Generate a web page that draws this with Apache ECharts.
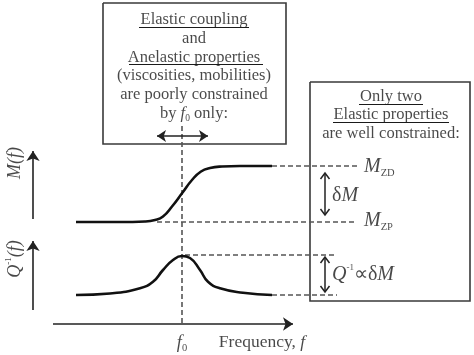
<!DOCTYPE html>
<html>
<head>
<meta charset="utf-8">
<script src="https://cdn.jsdelivr.net/npm/echarts@6/dist/echarts.min.js"></script>
<style>
  html, body { margin: 0; padding: 0; background: #fff; }
  #chart { width: 474px; height: 355px; }
</style>
</head>
<body>
<div id="chart"></div>
<script>
// diagram units: x = schematic frequency, y = schematic level (downwards)
const f0 = 182;
const mZD = 166;   // relaxed/unrelaxed modulus levels
const mZP = 222;
const qPeak = 255;
const qBase = 295;

// M(f) step (sigmoid)
const freqM = [76, 120, 145, 155, 163, 172, 182, 192, 201, 210, 222, 240, 272];
const modulus = [222, 222, 221.5, 220, 216.5, 206.5, 193.3, 180, 171.5, 168, 166.5, 166, 166];

// Q^-1(f) peak
const freqQ = [76, 110, 140, 153, 163, 173, 182, 190, 200, 208, 220, 243, 272];
const attenuation = [295, 293.5, 288.3, 281.7, 270, 260, 256, 258, 270, 281.7, 288.3, 292.7, 295];

const leftBoxLines = ['Elastic coupling', 'and', 'Anelastic properties', '(viscosities, mobilities)', 'are poorly constrained', '{n|by }{i|f}{sub|0}{n| only:}'];
const rightBoxLines = ['Only two', 'Elastic properties', 'are well constrained:'];

const chart = echarts.init(document.getElementById('chart'));

const serif = "'Liberation Serif', 'Times New Roman', serif";
const ink = '#1a1a1a';
const dashColor = '#555';

const richBase = {
  n: { fontFamily: serif, fontSize: 16.5, color: ink, lineHeight: 20 },
  i: { fontFamily: serif, fontSize: 16.5, fontStyle: 'italic', color: ink, lineHeight: 20 },
  sub: { fontFamily: serif, fontSize: 9.5, color: ink, lineHeight: 9, verticalAlign: 'bottom' }
};

function textItem(x, y, formatter, extra) {
  return {
    value: [x, y],
    label: Object.assign({
      show: true,
      position: 'inside',
      formatter: formatter,
      fontFamily: serif,
      fontSize: 16.5,
      color: ink,
      align: 'center',
      verticalAlign: 'middle',
      rich: richBase
    }, extra || {})
  };
}

const texts = [];
leftBoxLines.forEach((t, k) => {
  texts.push(textItem(194, 20 + k * 18.7, t));
});
rightBoxLines.forEach((t, k) => {
  texts.push(textItem(391, 96.5 + k * 18.4, t));
});

const bigRich = {
  m: { fontFamily: serif, fontSize: 20, fontStyle: 'italic', color: ink, lineHeight: 24 },
  r: { fontFamily: serif, fontSize: 20, color: ink, lineHeight: 24 },
  sub: { fontFamily: serif, fontSize: 10.5, color: ink, lineHeight: 10, verticalAlign: 'bottom' },
  sup: { fontFamily: serif, fontSize: 9, color: ink, lineHeight: 9, verticalAlign: 'top' }
};
texts.push(textItem(364, mZD + 1, '{m|M}{sub|ZD}', { align: 'left', rich: bigRich }));
texts.push(textItem(364, mZP - 1, '{m|M}{sub|ZP}', { align: 'left', rich: bigRich }));
texts.push(textItem(332, 196, '{r|δ}{m|M}', { align: 'left', rich: bigRich }));
texts.push(textItem(332, 275, '{m|Q}{sup|-1}{r|∝δ}{m|M}', { align: 'left', rich: bigRich }));
texts.push(textItem(f0, 343, '{m|f}{sub|0}', { rich: Object.assign({}, bigRich, {
  m: { fontFamily: serif, fontSize: 18, fontStyle: 'italic', color: ink, lineHeight: 22 } }) }));
texts.push(textItem(262, 342, '{r|Frequency, }{m|f}', { rich: {
  r: { fontFamily: serif, fontSize: 17.5, color: ink },
  m: { fontFamily: serif, fontSize: 17.5, fontStyle: 'italic', color: ink }
} }));
texts.push(textItem(15, 163, '{m|M}{r|(}{m|f}{r|)}', { rotate: 90, rich: {
  m: { fontFamily: serif, fontSize: 18, fontStyle: 'italic', color: ink, lineHeight: 22 },
  r: { fontFamily: serif, fontSize: 18, fontStyle: 'italic', color: ink, lineHeight: 22 }
} }));
texts.push(textItem(15, 259, '{m|Q}{sup|-1}{r|(}{m|f}{r|)}', { rotate: 90, rich: {
  m: { fontFamily: serif, fontSize: 18, fontStyle: 'italic', color: ink, lineHeight: 22 },
  r: { fontFamily: serif, fontSize: 18, fontStyle: 'italic', color: ink, lineHeight: 22 },
  sup: { fontFamily: serif, fontSize: 9, color: ink, lineHeight: 9, verticalAlign: 'top' }
} }));

const option = {
  animation: false,
  backgroundColor: '#fff',
  grid: { left: 0, right: 0, top: 0, bottom: 0 },
  xAxis: { type: 'value', min: 0, max: 474, show: false },
  yAxis: { type: 'value', min: 0, max: 355, inverse: true, show: false },
  series: [
    // the two text boxes
    {
      type: 'lines', coordinateSystem: 'cartesian2d', polyline: true, silent: true,
      lineStyle: { color: '#3a3a3a', width: 1.6, opacity: 1 },
      data: [
        { coords: [[103, 3], [286, 3], [286, 144], [103, 144], [103, 3]] },
        { coords: [[310, 82], [470, 82], [470, 301], [310, 301], [310, 82]] }
      ]
    },
    // underlines
    {
      type: 'lines', coordinateSystem: 'cartesian2d', silent: true,
      lineStyle: { color: ink, width: 1, opacity: 1 },
      data: [
        { coords: [[139, 27.5], [249, 27.5]] },
        { coords: [[129, 64], [263, 64]] },
        { coords: [[359, 104.5], [423, 104.5]] },
        { coords: [[333, 122.5], [449, 122.5]] }
      ]
    },
    // dashed reference lines
    {
      type: 'lines', coordinateSystem: 'cartesian2d', silent: true,
      lineStyle: { color: dashColor, width: 1.6, type: [5, 3], opacity: 1 },
      data: [
        { coords: [[f0, 126], [f0, 323]] },
        { coords: [[272, mZD], [358, mZD]] },
        { coords: [[157, mZP], [357, mZP]] },
        { coords: [[185, qPeak], [337, qPeak]] },
        { coords: [[272, qBase], [337, qBase]] }
      ]
    },
    // axes arrows
    {
      type: 'lines', coordinateSystem: 'cartesian2d', silent: true,
      symbol: ['none', 'arrow'], symbolSize: 10,
      lineStyle: { color: '#222', width: 1.6, opacity: 1 },
      data: [
        { coords: [[53, 324], [293, 324]] },
        { coords: [[33, 219], [33, 151]] },
        { coords: [[33, 310], [33, 241]] }
      ]
    },
    // f0 uncertainty arrow
    {
      type: 'lines', coordinateSystem: 'cartesian2d', silent: true,
      symbol: ['arrow', 'arrow'], symbolSize: 9,
      lineStyle: { color: '#222', width: 1.6, opacity: 1 },
      data: [{ coords: [[157, 136], [208, 136]] }]
    },
    // open double arrows (dM, Q^-1)
    {
      type: 'custom', coordinateSystem: 'cartesian2d', silent: true,
      data: [[325, mZD + 7, mZP - 7], [325, qPeak + 2, qBase - 3]],
      encode: { x: 0, y: [1, 2] },
      renderItem: function (params, api) {
        const a = api.coord([api.value(0), api.value(1)]);
        const b = api.coord([api.value(0), api.value(2)]);
        const w = 4.5, d = 6;
        const st = { stroke: '#222', lineWidth: 1.5, fill: null };
        return {
          type: 'group',
          children: [
            { type: 'line', shape: { x1: a[0], y1: a[1], x2: b[0], y2: b[1] }, style: st },
            { type: 'polyline', shape: { points: [[a[0] - w, a[1] + d], a, [a[0] + w, a[1] + d]] }, style: st },
            { type: 'polyline', shape: { points: [[b[0] - w, b[1] - d], b, [b[0] + w, b[1] - d]] }, style: st }
          ]
        };
      }
    },
    // M(f)
    {
      type: 'line', smooth: 0.5, showSymbol: false, silent: true,
      lineStyle: { color: '#111', width: 2.6 },
      data: freqM.map((x, k) => [x, modulus[k]])
    },
    // Q^-1(f)
    {
      type: 'line', smooth: 0.5, showSymbol: false, silent: true,
      lineStyle: { color: '#111', width: 2.6 },
      data: freqQ.map((x, k) => [x, attenuation[k]])
    },
    // texts
    {
      type: 'scatter', symbolSize: 0, silent: true,
      data: texts
    }
  ]
};

chart.setOption(option);
</script>
</body>
</html>
